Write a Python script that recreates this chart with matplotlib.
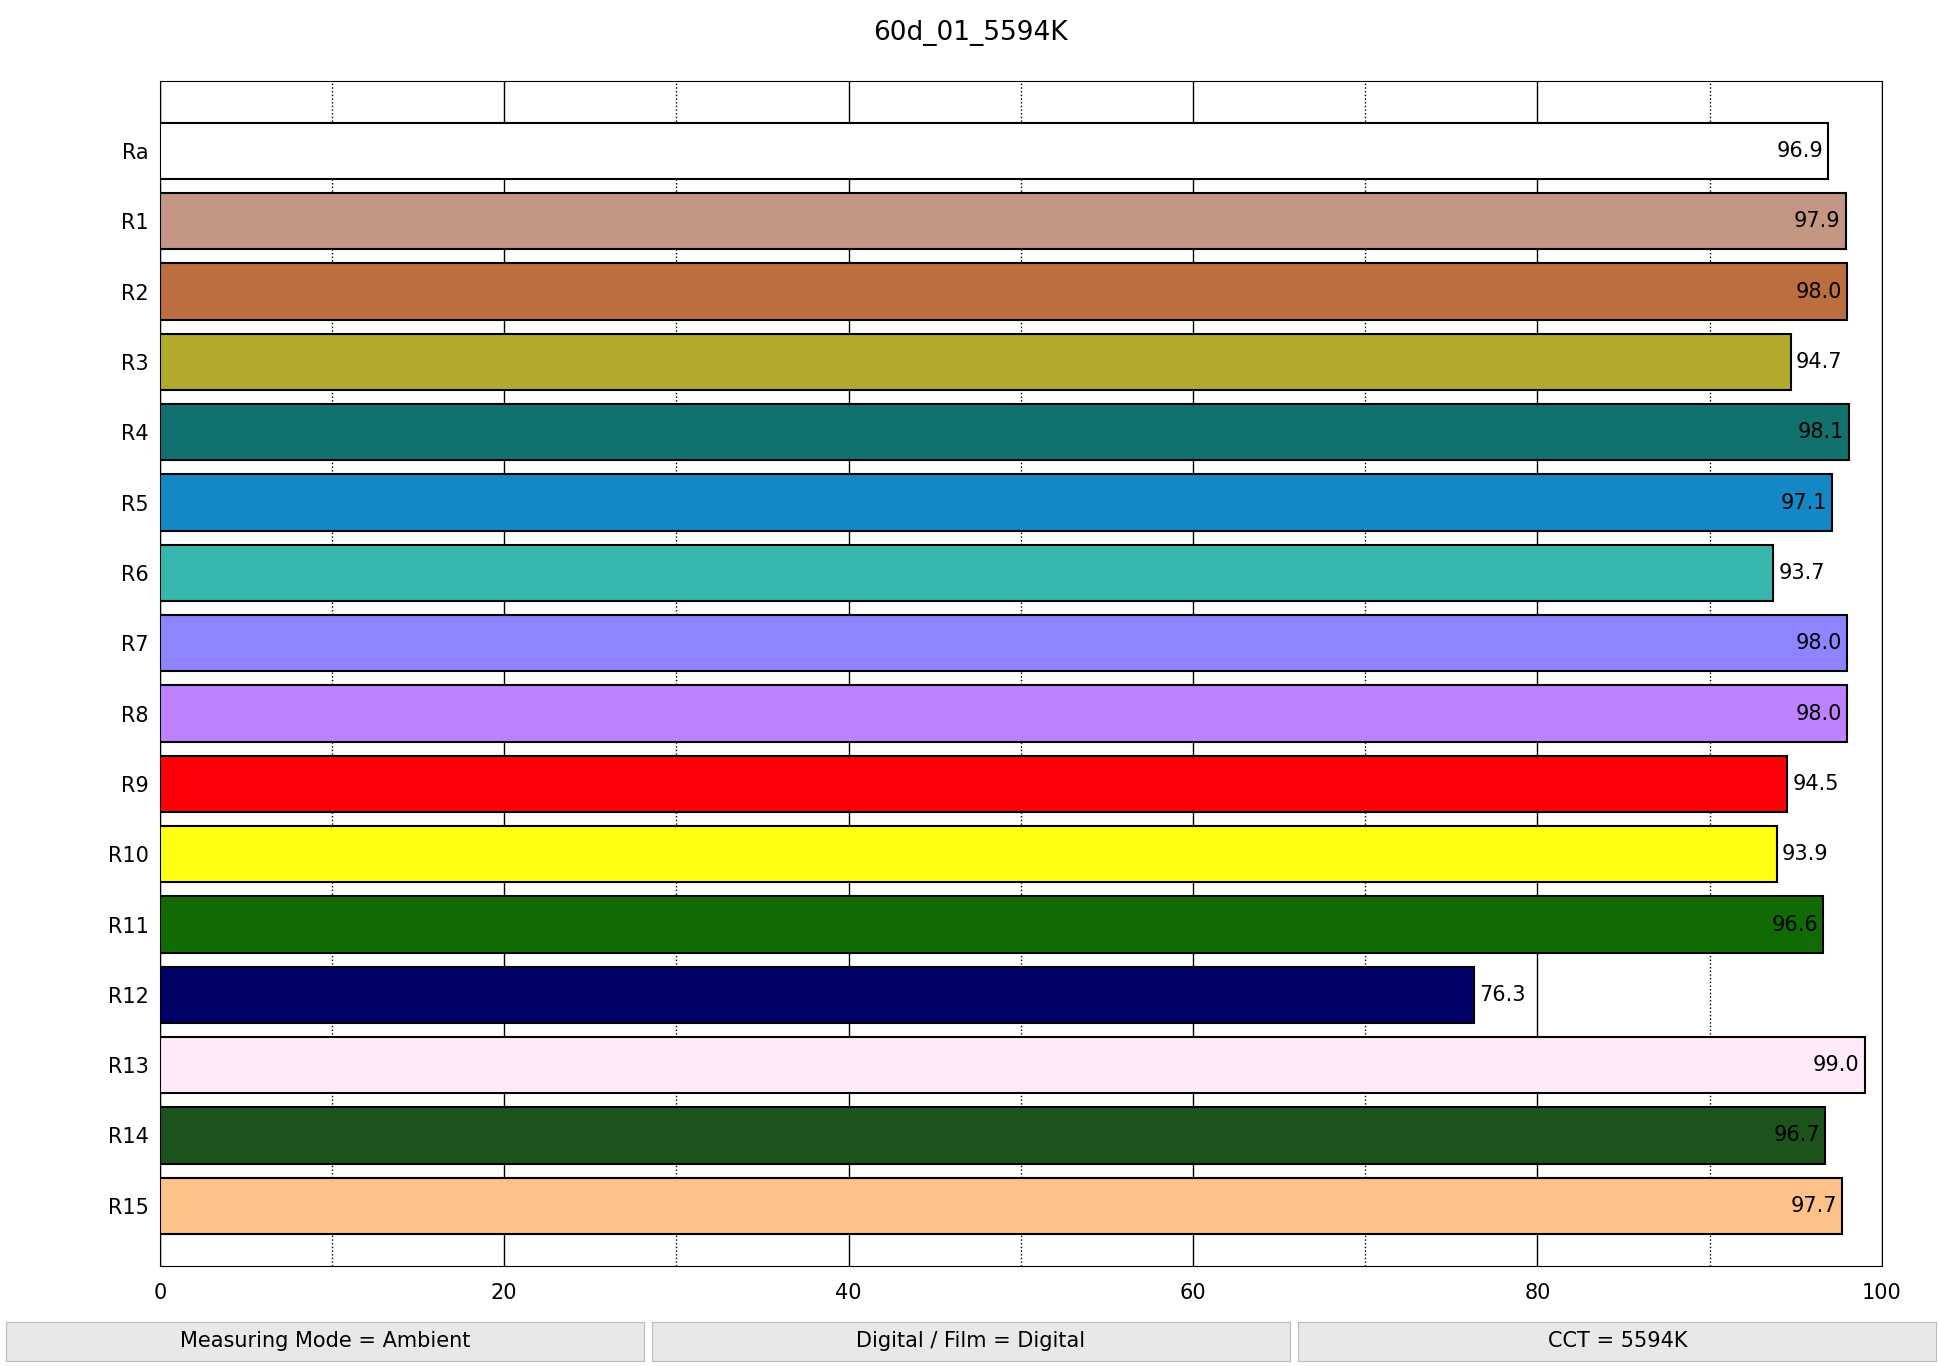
import matplotlib.pyplot as plt
from matplotlib.ticker import MultipleLocator

labels = ['Ra', 'R1', 'R2', 'R3', 'R4', 'R5', 'R6', 'R7', 'R8', 'R9', 'R10',
          'R11', 'R12', 'R13', 'R14', 'R15']
values = [96.9, 97.9, 98.0, 94.7, 98.1, 97.1, 93.7, 98.0, 98.0, 94.5, 93.9,
          96.6, 76.3, 99.0, 96.7, 97.7]
colors = ['#ffffff', '#c49784', '#bd6e3f', '#b1aa2c', '#11716e', '#1388c4',
          '#36b6ad', '#8d84ff', '#be81ff', '#ff0008', '#ffff14', '#116b05',
          '#000066', '#ffeafa', '#1c521c', '#ffc18a']
footer = ['Measuring Mode = Ambient', 'Digital / Film = Digital', 'CCT = 5594K']

fig = plt.figure(figsize=(19.4, 13.66), dpi=100)
ax = fig.add_axes([0.0824, 0.073, 0.8876, 0.868])
ypos = list(range(len(labels)))
ax.barh(ypos, values, height=0.8, color=colors, edgecolor='black', linewidth=1.5, zorder=3)
for y, v in zip(ypos, values):
    if v >= 95:
        ax.text(v - 0.3, y, f'{v:.1f}', ha='right', va='center', fontsize=15, zorder=4)
    else:
        ax.text(v + 0.3, y, f'{v:.1f}', ha='left', va='center', fontsize=15, zorder=4)

ax.set_xlim(0, 100)
ax.set_ylim(15.86, -1.0)
ax.set_yticks(ypos)
ax.set_yticklabels(labels, fontsize=15)
ax.xaxis.set_major_locator(MultipleLocator(20))
ax.xaxis.set_minor_locator(MultipleLocator(10))
ax.tick_params(axis='x', labelsize=15, pad=12, length=0, which='both')
ax.tick_params(axis='y', length=0, pad=8)
ax.grid(True, axis='x', which='major', color='black', linewidth=1, zorder=0)
ax.grid(True, axis='x', which='minor', color='black', linewidth=1, linestyle=':', zorder=0)
ax.set_axisbelow(True)
fig.suptitle('60d_01_5594K', fontsize=19, y=0.985)

xs = [5, 526, 1048]
for x, txt in zip(xs, footer):
    b = fig.add_axes([x / 1566, 0.004, 515 / 1566, 0.028])
    b.set_facecolor('#e8e8e8')
    b.set_xticks([])
    b.set_yticks([])
    for s in b.spines.values():
        s.set_color('#bbbbbb')
    b.text(0.5, 0.5, txt, ha='center', va='center', fontsize=15, transform=b.transAxes)

fig.savefig('out.png')
